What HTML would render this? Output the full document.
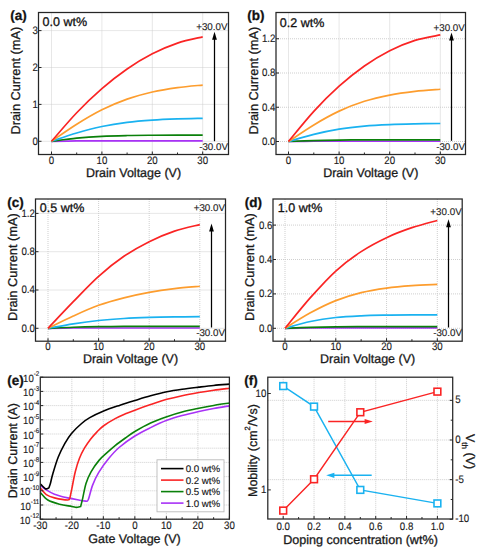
<!DOCTYPE html><html><head><meta charset="utf-8"><style>html,body{margin:0;padding:0;background:#fff;width:482px;height:550px;overflow:hidden}svg{display:block;font-family:"Liberation Sans",sans-serif}text{stroke:#1a1a1a;stroke-width:0.3px;paint-order:stroke;text-rendering:geometricPrecision}text.s{stroke-width:0.12px}</style></head><body><svg width="482" height="550" viewBox="0 0 482 550" >
<rect width="482" height="550" fill="#fff"/>
<line x1="51.50" y1="12.5" x2="51.50" y2="154.5" stroke="#cacaca" stroke-width="0.9" stroke-dasharray="1,1"/>
<line x1="101.90" y1="12.5" x2="101.90" y2="154.5" stroke="#cacaca" stroke-width="0.9" stroke-dasharray="1,1"/>
<line x1="152.30" y1="12.5" x2="152.30" y2="154.5" stroke="#cacaca" stroke-width="0.9" stroke-dasharray="1,1"/>
<line x1="202.70" y1="12.5" x2="202.70" y2="154.5" stroke="#cacaca" stroke-width="0.9" stroke-dasharray="1,1"/>
<line x1="38.5" y1="141.30" x2="228.5" y2="141.30" stroke="#cacaca" stroke-width="0.9" stroke-dasharray="1,1"/>
<line x1="38.5" y1="104.40" x2="228.5" y2="104.40" stroke="#cacaca" stroke-width="0.9" stroke-dasharray="1,1"/>
<line x1="38.5" y1="67.50" x2="228.5" y2="67.50" stroke="#cacaca" stroke-width="0.9" stroke-dasharray="1,1"/>
<line x1="38.5" y1="30.60" x2="228.5" y2="30.60" stroke="#cacaca" stroke-width="0.9" stroke-dasharray="1,1"/>
<path d="M51.50,141.30 C55.70,141.24 68.30,140.99 76.70,140.93 C85.10,140.87 93.50,140.93 101.90,140.93 C110.30,140.93 118.70,140.93 127.10,140.93 C135.50,140.93 143.90,140.93 152.30,140.93 C160.70,140.93 169.10,140.93 177.50,140.93 C185.90,140.93 198.50,140.93 202.70,140.93" fill="none" stroke="#A832F6" stroke-width="1.7"/>
<path d="M51.50,141.30 C55.70,140.78 68.30,139.00 76.70,138.16 C85.10,137.33 93.50,136.74 101.90,136.30 C110.30,135.86 118.70,135.69 127.10,135.51 C135.50,135.33 143.90,135.29 152.30,135.23 C160.70,135.17 169.10,135.15 177.50,135.13 C185.90,135.11 198.50,135.11 202.70,135.10" fill="none" stroke="#0A800A" stroke-width="1.7"/>
<path d="M51.50,141.30 C55.70,139.91 68.30,135.44 76.70,132.97 C85.10,130.51 93.50,128.27 101.90,126.51 C110.30,124.74 118.70,123.46 127.10,122.40 C135.50,121.33 143.90,120.69 152.30,120.11 C160.70,119.53 169.10,119.23 177.50,118.93 C185.90,118.64 198.50,118.45 202.70,118.35" fill="none" stroke="#1AB2F0" stroke-width="1.7"/>
<path d="M51.50,141.30 C55.70,138.46 68.30,129.50 76.70,124.24 C85.10,118.98 93.50,113.95 101.90,109.76 C110.30,105.56 118.70,102.04 127.10,99.08 C135.50,96.12 143.90,93.90 152.30,91.99 C160.70,90.08 169.10,88.77 177.50,87.61 C185.90,86.45 198.50,85.46 202.70,85.03" fill="none" stroke="#FD9D2E" stroke-width="1.7"/>
<path d="M51.50,141.30 C55.70,136.54 68.30,121.52 76.70,112.74 C85.10,103.96 93.50,95.93 101.90,88.64 C110.30,81.35 118.70,74.81 127.10,69.00 C135.50,63.20 143.90,58.15 152.30,53.83 C160.70,49.52 169.10,45.95 177.50,43.12 C185.90,40.29 198.50,37.91 202.70,36.87" fill="none" stroke="#FA2424" stroke-width="1.7"/>
<rect x="38.5" y="12.5" width="190.0" height="142.0" fill="none" stroke="#262626" stroke-width="1.25"/>
<line x1="51.50" y1="154.50" x2="51.50" y2="151.50" stroke="#262626" stroke-width="1" />
<line x1="76.70" y1="154.50" x2="76.70" y2="152.50" stroke="#262626" stroke-width="1" />
<line x1="101.90" y1="154.50" x2="101.90" y2="151.50" stroke="#262626" stroke-width="1" />
<line x1="127.10" y1="154.50" x2="127.10" y2="152.50" stroke="#262626" stroke-width="1" />
<line x1="152.30" y1="154.50" x2="152.30" y2="151.50" stroke="#262626" stroke-width="1" />
<line x1="177.50" y1="154.50" x2="177.50" y2="152.50" stroke="#262626" stroke-width="1" />
<line x1="202.70" y1="154.50" x2="202.70" y2="151.50" stroke="#262626" stroke-width="1" />
<line x1="38.50" y1="141.30" x2="41.50" y2="141.30" stroke="#262626" stroke-width="1" />
<text x="0" y="0" font-size="9.7" text-anchor="end" font-weight="normal" fill="#1a1a1a" transform="translate(37.90,144.70) scale(1,1.12)"  class="s">0</text>
<line x1="38.50" y1="104.40" x2="41.50" y2="104.40" stroke="#262626" stroke-width="1" />
<text x="0" y="0" font-size="9.7" text-anchor="end" font-weight="normal" fill="#1a1a1a" transform="translate(37.90,107.80) scale(1,1.12)"  class="s">1</text>
<line x1="38.50" y1="67.50" x2="41.50" y2="67.50" stroke="#262626" stroke-width="1" />
<text x="0" y="0" font-size="9.7" text-anchor="end" font-weight="normal" fill="#1a1a1a" transform="translate(37.90,70.90) scale(1,1.12)"  class="s">2</text>
<line x1="38.50" y1="30.60" x2="41.50" y2="30.60" stroke="#262626" stroke-width="1" />
<text x="0" y="0" font-size="9.7" text-anchor="end" font-weight="normal" fill="#1a1a1a" transform="translate(37.90,34.00) scale(1,1.12)"  class="s">3</text>
<text x="0" y="0" font-size="9.7" text-anchor="middle" font-weight="normal" fill="#1a1a1a" transform="translate(51.50,163.70) scale(1,1.12)"  class="s">0</text>
<text x="0" y="0" font-size="9.7" text-anchor="middle" font-weight="normal" fill="#1a1a1a" transform="translate(101.90,163.70) scale(1,1.12)"  class="s">10</text>
<text x="0" y="0" font-size="9.7" text-anchor="middle" font-weight="normal" fill="#1a1a1a" transform="translate(152.30,163.70) scale(1,1.12)"  class="s">20</text>
<text x="0" y="0" font-size="9.7" text-anchor="middle" font-weight="normal" fill="#1a1a1a" transform="translate(202.70,163.70) scale(1,1.12)"  class="s">30</text>
<text x="133.50" y="176.50" font-size="12.5" text-anchor="middle" font-weight="normal" fill="#1a1a1a" >Drain Voltage (V)</text>
<text x="0" y="0" font-size="12.75" text-anchor="middle" fill="#1a1a1a" transform="translate(20.099999999999998,80.6) rotate(-90)">Drain Current (mA)</text>
<text x="10.20" y="20.30" font-size="13.5" text-anchor="start" font-weight="bold" fill="#111" >(a)</text>
<text x="42.60" y="26.30" font-size="12.5" text-anchor="start" font-weight="normal" fill="#111" >0.0 wt%</text>
<line x1="214.5" y1="141.2" x2="214.5" y2="38.8" stroke="#000" stroke-width="1.25"/>
<path d="M214.5,31.8 L212.1,39.8 L216.9,39.8 Z" fill="#000"/>
<text x="227.50" y="30.20" font-size="9.8" text-anchor="end" font-weight="normal" fill="#1a1a1a"  class="s">+30.0V</text>
<text x="228.00" y="149.90" font-size="9.8" text-anchor="end" font-weight="normal" fill="#1a1a1a"  class="s">-30.0V</text>
<line x1="288.50" y1="12.5" x2="288.50" y2="154.5" stroke="#cacaca" stroke-width="0.9" stroke-dasharray="1,1"/>
<line x1="339.10" y1="12.5" x2="339.10" y2="154.5" stroke="#cacaca" stroke-width="0.9" stroke-dasharray="1,1"/>
<line x1="389.70" y1="12.5" x2="389.70" y2="154.5" stroke="#cacaca" stroke-width="0.9" stroke-dasharray="1,1"/>
<line x1="440.30" y1="12.5" x2="440.30" y2="154.5" stroke="#cacaca" stroke-width="0.9" stroke-dasharray="1,1"/>
<line x1="276" y1="141.50" x2="465.5" y2="141.50" stroke="#cacaca" stroke-width="0.9" stroke-dasharray="1,1"/>
<line x1="276" y1="107.25" x2="465.5" y2="107.25" stroke="#cacaca" stroke-width="0.9" stroke-dasharray="1,1"/>
<line x1="276" y1="73.00" x2="465.5" y2="73.00" stroke="#cacaca" stroke-width="0.9" stroke-dasharray="1,1"/>
<line x1="276" y1="38.75" x2="465.5" y2="38.75" stroke="#cacaca" stroke-width="0.9" stroke-dasharray="1,1"/>
<path d="M288.50,141.50 C292.72,141.46 305.37,141.29 313.80,141.24 C322.23,141.20 330.67,141.24 339.10,141.24 C347.53,141.24 355.97,141.24 364.40,141.24 C372.83,141.24 381.27,141.24 389.70,141.24 C398.13,141.24 406.57,141.24 415.00,141.24 C423.43,141.24 436.08,141.24 440.30,141.24" fill="none" stroke="#A832F6" stroke-width="1.7"/>
<path d="M288.50,141.50 C292.72,141.34 305.37,140.79 313.80,140.55 C322.23,140.31 330.67,140.16 339.10,140.05 C347.53,139.93 355.97,139.90 364.40,139.86 C372.83,139.82 381.27,139.82 389.70,139.81 C398.13,139.80 406.57,139.80 415.00,139.79 C423.43,139.79 436.08,139.79 440.30,139.79" fill="none" stroke="#0A800A" stroke-width="1.7"/>
<path d="M288.50,141.50 C292.72,140.30 305.37,136.39 313.80,134.32 C322.23,132.24 330.67,130.45 339.10,129.07 C347.53,127.69 355.97,126.80 364.40,126.04 C372.83,125.28 381.27,124.90 389.70,124.53 C398.13,124.16 406.57,124.00 415.00,123.83 C423.43,123.66 436.08,123.57 440.30,123.52" fill="none" stroke="#1AB2F0" stroke-width="1.7"/>
<path d="M288.50,141.50 C292.72,138.74 305.37,129.99 313.80,124.93 C322.23,119.87 330.67,115.07 339.10,111.14 C347.53,107.20 355.97,103.99 364.40,101.31 C372.83,98.63 381.27,96.72 389.70,95.06 C398.13,93.40 406.57,92.33 415.00,91.36 C423.43,90.40 436.08,89.62 440.30,89.27" fill="none" stroke="#FD9D2E" stroke-width="1.7"/>
<path d="M288.50,141.50 C292.72,136.48 305.37,120.61 313.80,111.39 C322.23,102.18 330.67,93.79 339.10,86.22 C347.53,78.66 355.97,71.91 364.40,65.99 C372.83,60.07 381.27,54.97 389.70,50.69 C398.13,46.41 406.57,42.96 415.00,40.33 C423.43,37.69 436.08,35.80 440.30,34.90" fill="none" stroke="#FA2424" stroke-width="1.7"/>
<rect x="276" y="12.5" width="189.5" height="142.0" fill="none" stroke="#262626" stroke-width="1.25"/>
<line x1="288.50" y1="154.50" x2="288.50" y2="151.50" stroke="#262626" stroke-width="1" />
<line x1="313.80" y1="154.50" x2="313.80" y2="152.50" stroke="#262626" stroke-width="1" />
<line x1="339.10" y1="154.50" x2="339.10" y2="151.50" stroke="#262626" stroke-width="1" />
<line x1="364.40" y1="154.50" x2="364.40" y2="152.50" stroke="#262626" stroke-width="1" />
<line x1="389.70" y1="154.50" x2="389.70" y2="151.50" stroke="#262626" stroke-width="1" />
<line x1="415.00" y1="154.50" x2="415.00" y2="152.50" stroke="#262626" stroke-width="1" />
<line x1="440.30" y1="154.50" x2="440.30" y2="151.50" stroke="#262626" stroke-width="1" />
<line x1="276.00" y1="141.50" x2="279.00" y2="141.50" stroke="#262626" stroke-width="1" />
<text x="0" y="0" font-size="9.7" text-anchor="end" font-weight="normal" fill="#1a1a1a" transform="translate(275.40,144.90) scale(1,1.12)"  class="s">0.0</text>
<line x1="276.00" y1="107.25" x2="279.00" y2="107.25" stroke="#262626" stroke-width="1" />
<text x="0" y="0" font-size="9.7" text-anchor="end" font-weight="normal" fill="#1a1a1a" transform="translate(275.40,110.65) scale(1,1.12)"  class="s">0.4</text>
<line x1="276.00" y1="73.00" x2="279.00" y2="73.00" stroke="#262626" stroke-width="1" />
<text x="0" y="0" font-size="9.7" text-anchor="end" font-weight="normal" fill="#1a1a1a" transform="translate(275.40,76.40) scale(1,1.12)"  class="s">0.8</text>
<line x1="276.00" y1="38.75" x2="279.00" y2="38.75" stroke="#262626" stroke-width="1" />
<text x="0" y="0" font-size="9.7" text-anchor="end" font-weight="normal" fill="#1a1a1a" transform="translate(275.40,42.15) scale(1,1.12)"  class="s">1.2</text>
<text x="0" y="0" font-size="9.7" text-anchor="middle" font-weight="normal" fill="#1a1a1a" transform="translate(288.50,163.70) scale(1,1.12)"  class="s">0</text>
<text x="0" y="0" font-size="9.7" text-anchor="middle" font-weight="normal" fill="#1a1a1a" transform="translate(339.10,163.70) scale(1,1.12)"  class="s">10</text>
<text x="0" y="0" font-size="9.7" text-anchor="middle" font-weight="normal" fill="#1a1a1a" transform="translate(389.70,163.70) scale(1,1.12)"  class="s">20</text>
<text x="0" y="0" font-size="9.7" text-anchor="middle" font-weight="normal" fill="#1a1a1a" transform="translate(440.30,163.70) scale(1,1.12)"  class="s">30</text>
<text x="370.75" y="176.50" font-size="12.5" text-anchor="middle" font-weight="normal" fill="#1a1a1a" >Drain Voltage (V)</text>
<text x="0" y="0" font-size="12.75" text-anchor="middle" fill="#1a1a1a" transform="translate(257.59999999999997,80.6) rotate(-90)">Drain Current (mA)</text>
<text x="247.30" y="20.30" font-size="13.5" text-anchor="start" font-weight="bold" fill="#111" >(b)</text>
<text x="279.80" y="27.00" font-size="12.5" text-anchor="start" font-weight="normal" fill="#111" >0.2 wt%</text>
<line x1="451.5" y1="140.8" x2="451.5" y2="39.5" stroke="#000" stroke-width="1.25"/>
<path d="M451.5,32.5 L449.1,40.5 L453.9,40.5 Z" fill="#000"/>
<text x="464.80" y="30.90" font-size="9.8" text-anchor="end" font-weight="normal" fill="#1a1a1a"  class="s">+30.0V</text>
<text x="465.00" y="149.90" font-size="9.8" text-anchor="end" font-weight="normal" fill="#1a1a1a"  class="s">-30.0V</text>
<line x1="48.00" y1="199" x2="48.00" y2="341.2" stroke="#cacaca" stroke-width="0.9" stroke-dasharray="1,1"/>
<line x1="98.60" y1="199" x2="98.60" y2="341.2" stroke="#cacaca" stroke-width="0.9" stroke-dasharray="1,1"/>
<line x1="149.20" y1="199" x2="149.20" y2="341.2" stroke="#cacaca" stroke-width="0.9" stroke-dasharray="1,1"/>
<line x1="199.80" y1="199" x2="199.80" y2="341.2" stroke="#cacaca" stroke-width="0.9" stroke-dasharray="1,1"/>
<line x1="35.5" y1="328.30" x2="225.5" y2="328.30" stroke="#cacaca" stroke-width="0.9" stroke-dasharray="1,1"/>
<line x1="35.5" y1="290.00" x2="225.5" y2="290.00" stroke="#cacaca" stroke-width="0.9" stroke-dasharray="1,1"/>
<line x1="35.5" y1="251.70" x2="225.5" y2="251.70" stroke="#cacaca" stroke-width="0.9" stroke-dasharray="1,1"/>
<line x1="35.5" y1="213.40" x2="225.5" y2="213.40" stroke="#cacaca" stroke-width="0.9" stroke-dasharray="1,1"/>
<path d="M48.00,328.30 C52.22,328.25 64.87,328.06 73.30,328.01 C81.73,327.96 90.17,328.01 98.60,328.01 C107.03,328.01 115.47,328.01 123.90,328.01 C132.33,328.01 140.77,328.01 149.20,328.01 C157.63,328.01 166.07,328.01 174.50,328.01 C182.93,328.01 195.58,328.01 199.80,328.01" fill="none" stroke="#A832F6" stroke-width="1.7"/>
<path d="M48.00,328.30 C52.22,328.12 64.87,327.51 73.30,327.24 C81.73,326.97 90.17,326.80 98.60,326.67 C107.03,326.55 115.47,326.52 123.90,326.47 C132.33,326.43 140.77,326.42 149.20,326.41 C157.63,326.40 166.07,326.39 174.50,326.39 C182.93,326.39 195.58,326.39 199.80,326.38" fill="none" stroke="#0A800A" stroke-width="1.7"/>
<path d="M48.00,328.30 C52.22,327.55 64.87,325.13 73.30,323.82 C81.73,322.52 90.17,321.37 98.60,320.48 C107.03,319.59 115.47,318.99 123.90,318.48 C132.33,317.98 140.77,317.70 149.20,317.44 C157.63,317.19 166.07,317.07 174.50,316.95 C182.93,316.82 195.58,316.75 199.80,316.71" fill="none" stroke="#1AB2F0" stroke-width="1.7"/>
<path d="M48.00,328.30 C52.22,326.26 64.87,319.87 73.30,316.04 C81.73,312.21 90.17,308.35 98.60,305.32 C107.03,302.29 115.47,300.01 123.90,297.85 C132.33,295.70 140.77,293.93 149.20,292.39 C157.63,290.86 166.07,289.68 174.50,288.66 C182.93,287.64 195.58,286.66 199.80,286.27" fill="none" stroke="#FD9D2E" stroke-width="1.7"/>
<path d="M48.00,328.30 C52.22,323.86 64.87,310.35 73.30,301.68 C81.73,293.02 90.17,283.87 98.60,276.31 C107.03,268.74 115.47,262.07 123.90,256.30 C132.33,250.52 140.77,245.84 149.20,241.65 C157.63,237.45 166.07,233.95 174.50,231.11 C182.93,228.27 195.58,225.69 199.80,224.60" fill="none" stroke="#FA2424" stroke-width="1.7"/>
<rect x="35.5" y="199" width="190.0" height="142.2" fill="none" stroke="#262626" stroke-width="1.25"/>
<line x1="48.00" y1="341.20" x2="48.00" y2="338.20" stroke="#262626" stroke-width="1" />
<line x1="73.30" y1="341.20" x2="73.30" y2="339.20" stroke="#262626" stroke-width="1" />
<line x1="98.60" y1="341.20" x2="98.60" y2="338.20" stroke="#262626" stroke-width="1" />
<line x1="123.90" y1="341.20" x2="123.90" y2="339.20" stroke="#262626" stroke-width="1" />
<line x1="149.20" y1="341.20" x2="149.20" y2="338.20" stroke="#262626" stroke-width="1" />
<line x1="174.50" y1="341.20" x2="174.50" y2="339.20" stroke="#262626" stroke-width="1" />
<line x1="199.80" y1="341.20" x2="199.80" y2="338.20" stroke="#262626" stroke-width="1" />
<line x1="35.50" y1="328.30" x2="38.50" y2="328.30" stroke="#262626" stroke-width="1" />
<text x="0" y="0" font-size="9.7" text-anchor="end" font-weight="normal" fill="#1a1a1a" transform="translate(34.90,331.70) scale(1,1.12)"  class="s">0.0</text>
<line x1="35.50" y1="290.00" x2="38.50" y2="290.00" stroke="#262626" stroke-width="1" />
<text x="0" y="0" font-size="9.7" text-anchor="end" font-weight="normal" fill="#1a1a1a" transform="translate(34.90,293.40) scale(1,1.12)"  class="s">0.4</text>
<line x1="35.50" y1="251.70" x2="38.50" y2="251.70" stroke="#262626" stroke-width="1" />
<text x="0" y="0" font-size="9.7" text-anchor="end" font-weight="normal" fill="#1a1a1a" transform="translate(34.90,255.10) scale(1,1.12)"  class="s">0.8</text>
<line x1="35.50" y1="213.40" x2="38.50" y2="213.40" stroke="#262626" stroke-width="1" />
<text x="0" y="0" font-size="9.7" text-anchor="end" font-weight="normal" fill="#1a1a1a" transform="translate(34.90,216.80) scale(1,1.12)"  class="s">1.2</text>
<text x="0" y="0" font-size="9.7" text-anchor="middle" font-weight="normal" fill="#1a1a1a" transform="translate(48.00,350.40) scale(1,1.12)"  class="s">0</text>
<text x="0" y="0" font-size="9.7" text-anchor="middle" font-weight="normal" fill="#1a1a1a" transform="translate(98.60,350.40) scale(1,1.12)"  class="s">10</text>
<text x="0" y="0" font-size="9.7" text-anchor="middle" font-weight="normal" fill="#1a1a1a" transform="translate(149.20,350.40) scale(1,1.12)"  class="s">20</text>
<text x="0" y="0" font-size="9.7" text-anchor="middle" font-weight="normal" fill="#1a1a1a" transform="translate(199.80,350.40) scale(1,1.12)"  class="s">30</text>
<text x="130.50" y="363.20" font-size="12.5" text-anchor="middle" font-weight="normal" fill="#1a1a1a" >Drain Voltage (V)</text>
<text x="0" y="0" font-size="12.75" text-anchor="middle" fill="#1a1a1a" transform="translate(16.9,267.20000000000005) rotate(-90)">Drain Current (mA)</text>
<text x="7.20" y="206.80" font-size="13.5" text-anchor="start" font-weight="bold" fill="#111" >(c)</text>
<text x="39.80" y="212.30" font-size="12.5" text-anchor="start" font-weight="normal" fill="#111" >0.5 wt%</text>
<line x1="211.5" y1="327.5" x2="211.5" y2="230.5" stroke="#000" stroke-width="1.25"/>
<path d="M211.5,223.5 L209.1,231.5 L213.9,231.5 Z" fill="#000"/>
<text x="225.00" y="211.10" font-size="9.8" text-anchor="end" font-weight="normal" fill="#1a1a1a"  class="s">+30.0V</text>
<text x="225.00" y="336.30" font-size="9.8" text-anchor="end" font-weight="normal" fill="#1a1a1a"  class="s">-30.0V</text>
<line x1="285.00" y1="199" x2="285.00" y2="341.2" stroke="#cacaca" stroke-width="0.9" stroke-dasharray="1,1"/>
<line x1="335.77" y1="199" x2="335.77" y2="341.2" stroke="#cacaca" stroke-width="0.9" stroke-dasharray="1,1"/>
<line x1="386.54" y1="199" x2="386.54" y2="341.2" stroke="#cacaca" stroke-width="0.9" stroke-dasharray="1,1"/>
<line x1="437.31" y1="199" x2="437.31" y2="341.2" stroke="#cacaca" stroke-width="0.9" stroke-dasharray="1,1"/>
<line x1="273" y1="328.30" x2="462.2" y2="328.30" stroke="#cacaca" stroke-width="0.9" stroke-dasharray="1,1"/>
<line x1="273" y1="293.90" x2="462.2" y2="293.90" stroke="#cacaca" stroke-width="0.9" stroke-dasharray="1,1"/>
<line x1="273" y1="259.50" x2="462.2" y2="259.50" stroke="#cacaca" stroke-width="0.9" stroke-dasharray="1,1"/>
<line x1="273" y1="225.10" x2="462.2" y2="225.10" stroke="#cacaca" stroke-width="0.9" stroke-dasharray="1,1"/>
<path d="M285.00,328.30 C289.23,328.24 301.92,328.01 310.38,327.96 C318.85,327.90 327.31,327.96 335.77,327.96 C344.23,327.96 352.69,327.96 361.15,327.96 C369.62,327.96 378.08,327.96 386.54,327.96 C395.00,327.96 403.46,327.96 411.93,327.96 C420.39,327.96 433.08,327.96 437.31,327.96" fill="none" stroke="#A832F6" stroke-width="1.7"/>
<path d="M285.00,328.30 C289.23,328.14 301.92,327.59 310.38,327.35 C318.85,327.10 327.31,326.95 335.77,326.84 C344.23,326.72 352.69,326.70 361.15,326.66 C369.62,326.62 378.08,326.61 386.54,326.60 C395.00,326.59 403.46,326.59 411.93,326.58 C420.39,326.58 433.08,326.58 437.31,326.58" fill="none" stroke="#0A800A" stroke-width="1.7"/>
<path d="M285.00,328.30 C289.23,327.17 301.92,323.32 310.38,321.51 C318.85,319.71 327.31,318.44 335.77,317.48 C344.23,316.52 352.69,316.16 361.15,315.78 C369.62,315.39 378.08,315.30 386.54,315.16 C395.00,315.02 403.46,315.00 411.93,314.95 C420.39,314.91 433.08,314.90 437.31,314.88" fill="none" stroke="#1AB2F0" stroke-width="1.7"/>
<path d="M285.00,328.30 C289.23,325.72 301.92,317.46 310.38,312.85 C318.85,308.24 327.31,304.01 335.77,300.65 C344.23,297.29 352.69,294.77 361.15,292.68 C369.62,290.59 378.08,289.28 386.54,288.11 C395.00,286.95 403.46,286.29 411.93,285.68 C420.39,285.07 433.08,284.65 437.31,284.44" fill="none" stroke="#FD9D2E" stroke-width="1.7"/>
<path d="M285.00,328.30 C289.23,323.20 301.92,307.23 310.38,297.68 C318.85,288.14 327.31,278.71 335.77,271.02 C344.23,263.34 352.69,257.15 361.15,251.59 C369.62,246.03 378.08,241.64 386.54,237.66 C395.00,233.67 403.46,230.55 411.93,227.68 C420.39,224.81 433.08,221.66 437.31,220.46" fill="none" stroke="#FA2424" stroke-width="1.7"/>
<rect x="273" y="199" width="189.2" height="142.2" fill="none" stroke="#262626" stroke-width="1.25"/>
<line x1="285.00" y1="341.20" x2="285.00" y2="338.20" stroke="#262626" stroke-width="1" />
<line x1="310.38" y1="341.20" x2="310.38" y2="339.20" stroke="#262626" stroke-width="1" />
<line x1="335.77" y1="341.20" x2="335.77" y2="338.20" stroke="#262626" stroke-width="1" />
<line x1="361.15" y1="341.20" x2="361.15" y2="339.20" stroke="#262626" stroke-width="1" />
<line x1="386.54" y1="341.20" x2="386.54" y2="338.20" stroke="#262626" stroke-width="1" />
<line x1="411.93" y1="341.20" x2="411.93" y2="339.20" stroke="#262626" stroke-width="1" />
<line x1="437.31" y1="341.20" x2="437.31" y2="338.20" stroke="#262626" stroke-width="1" />
<line x1="273.00" y1="328.30" x2="276.00" y2="328.30" stroke="#262626" stroke-width="1" />
<text x="0" y="0" font-size="9.7" text-anchor="end" font-weight="normal" fill="#1a1a1a" transform="translate(272.40,331.70) scale(1,1.12)"  class="s">0.0</text>
<line x1="273.00" y1="293.90" x2="276.00" y2="293.90" stroke="#262626" stroke-width="1" />
<text x="0" y="0" font-size="9.7" text-anchor="end" font-weight="normal" fill="#1a1a1a" transform="translate(272.40,297.30) scale(1,1.12)"  class="s">0.2</text>
<line x1="273.00" y1="259.50" x2="276.00" y2="259.50" stroke="#262626" stroke-width="1" />
<text x="0" y="0" font-size="9.7" text-anchor="end" font-weight="normal" fill="#1a1a1a" transform="translate(272.40,262.90) scale(1,1.12)"  class="s">0.4</text>
<line x1="273.00" y1="225.10" x2="276.00" y2="225.10" stroke="#262626" stroke-width="1" />
<text x="0" y="0" font-size="9.7" text-anchor="end" font-weight="normal" fill="#1a1a1a" transform="translate(272.40,228.50) scale(1,1.12)"  class="s">0.6</text>
<text x="0" y="0" font-size="9.7" text-anchor="middle" font-weight="normal" fill="#1a1a1a" transform="translate(285.00,350.40) scale(1,1.12)"  class="s">0</text>
<text x="0" y="0" font-size="9.7" text-anchor="middle" font-weight="normal" fill="#1a1a1a" transform="translate(335.77,350.40) scale(1,1.12)"  class="s">10</text>
<text x="0" y="0" font-size="9.7" text-anchor="middle" font-weight="normal" fill="#1a1a1a" transform="translate(386.54,350.40) scale(1,1.12)"  class="s">20</text>
<text x="0" y="0" font-size="9.7" text-anchor="middle" font-weight="normal" fill="#1a1a1a" transform="translate(437.31,350.40) scale(1,1.12)"  class="s">30</text>
<text x="367.60" y="363.20" font-size="12.5" text-anchor="middle" font-weight="normal" fill="#1a1a1a" >Drain Voltage (V)</text>
<text x="0" y="0" font-size="12.75" text-anchor="middle" fill="#1a1a1a" transform="translate(253.9,267.20000000000005) rotate(-90)">Drain Current (mA)</text>
<text x="244.80" y="206.80" font-size="13.5" text-anchor="start" font-weight="bold" fill="#111" >(d)</text>
<text x="277.80" y="212.30" font-size="12.5" text-anchor="start" font-weight="normal" fill="#111" >1.0 wt%</text>
<line x1="448.5" y1="327.5" x2="448.5" y2="226.3" stroke="#000" stroke-width="1.25"/>
<path d="M448.5,219.3 L446.1,227.3 L450.9,227.3 Z" fill="#000"/>
<text x="461.70" y="215.20" font-size="9.8" text-anchor="end" font-weight="normal" fill="#1a1a1a"  class="s">+30.0V</text>
<text x="462.00" y="336.30" font-size="9.8" text-anchor="end" font-weight="normal" fill="#1a1a1a"  class="s">-30.0V</text>
<line x1="40.30" y1="377.2" x2="40.30" y2="519.2" stroke="#cacaca" stroke-width="0.9" stroke-dasharray="1,1"/>
<line x1="71.82" y1="377.2" x2="71.82" y2="519.2" stroke="#cacaca" stroke-width="0.9" stroke-dasharray="1,1"/>
<line x1="103.33" y1="377.2" x2="103.33" y2="519.2" stroke="#cacaca" stroke-width="0.9" stroke-dasharray="1,1"/>
<line x1="134.85" y1="377.2" x2="134.85" y2="519.2" stroke="#cacaca" stroke-width="0.9" stroke-dasharray="1,1"/>
<line x1="166.37" y1="377.2" x2="166.37" y2="519.2" stroke="#cacaca" stroke-width="0.9" stroke-dasharray="1,1"/>
<line x1="197.88" y1="377.2" x2="197.88" y2="519.2" stroke="#cacaca" stroke-width="0.9" stroke-dasharray="1,1"/>
<line x1="229.40" y1="377.2" x2="229.40" y2="519.2" stroke="#cacaca" stroke-width="0.9" stroke-dasharray="1,1"/>
<line x1="40.3" y1="377.20" x2="229.4" y2="377.20" stroke="#cacaca" stroke-width="0.9" stroke-dasharray="1,1"/>
<line x1="40.3" y1="391.40" x2="229.4" y2="391.40" stroke="#cacaca" stroke-width="0.9" stroke-dasharray="1,1"/>
<line x1="40.3" y1="405.60" x2="229.4" y2="405.60" stroke="#cacaca" stroke-width="0.9" stroke-dasharray="1,1"/>
<line x1="40.3" y1="419.80" x2="229.4" y2="419.80" stroke="#cacaca" stroke-width="0.9" stroke-dasharray="1,1"/>
<line x1="40.3" y1="434.00" x2="229.4" y2="434.00" stroke="#cacaca" stroke-width="0.9" stroke-dasharray="1,1"/>
<line x1="40.3" y1="448.20" x2="229.4" y2="448.20" stroke="#cacaca" stroke-width="0.9" stroke-dasharray="1,1"/>
<line x1="40.3" y1="462.40" x2="229.4" y2="462.40" stroke="#cacaca" stroke-width="0.9" stroke-dasharray="1,1"/>
<line x1="40.3" y1="476.60" x2="229.4" y2="476.60" stroke="#cacaca" stroke-width="0.9" stroke-dasharray="1,1"/>
<line x1="40.3" y1="490.80" x2="229.4" y2="490.80" stroke="#cacaca" stroke-width="0.9" stroke-dasharray="1,1"/>
<line x1="40.3" y1="505.00" x2="229.4" y2="505.00" stroke="#cacaca" stroke-width="0.9" stroke-dasharray="1,1"/>
<line x1="40.3" y1="519.20" x2="229.4" y2="519.20" stroke="#cacaca" stroke-width="0.9" stroke-dasharray="1,1"/>
<path d="M40.30,485.12 C41.30,485.92 43.92,488.43 46.29,489.95 C48.65,491.46 50.91,492.88 54.48,494.21 C58.05,495.53 63.52,496.91 67.72,497.90 C71.92,498.89 76.49,499.60 79.70,500.17 C82.90,500.74 85.74,501.12 86.94,501.31 L86.94,501.31 C87.21,500.93 87.58,501.73 88.52,499.04 C89.47,496.34 90.94,489.52 92.62,485.12 C94.30,480.72 95.93,477.05 98.61,472.62 C101.28,468.20 105.28,462.76 108.69,458.57 C112.11,454.38 114.73,451.25 119.09,447.49 C123.45,443.73 129.60,439.30 134.85,435.99 C140.10,432.67 145.28,430.21 150.61,427.61 C155.94,425.01 161.59,422.38 166.84,420.37 C172.09,418.36 176.79,417.03 182.12,415.54 C187.46,414.05 193.58,412.61 198.83,411.42 C204.08,410.24 208.55,409.36 213.64,408.44 C218.74,407.52 226.77,406.31 229.40,405.88 " fill="none" stroke="#A832F6" stroke-width="1.6" stroke-linejoin="round"/>
<path d="M40.30,492.50 C41.56,493.76 44.66,498.09 47.86,500.03 C51.07,501.97 55.53,503.08 59.53,504.15 C63.52,505.21 69.03,505.88 71.82,506.42 C74.60,506.96 74.76,507.39 76.23,507.41 C77.70,507.44 79.91,506.70 80.64,506.56 L80.64,506.56 C80.98,505.19 81.80,502.18 82.69,498.33 C83.58,494.47 84.61,487.84 86.00,483.42 C87.39,478.99 88.84,475.65 91.04,471.77 C93.25,467.89 96.66,463.23 99.24,460.13 C101.81,457.03 103.83,455.58 106.48,453.17 C109.14,450.76 112.00,448.18 115.15,445.64 C118.30,443.11 122.11,440.34 125.40,437.98 C128.68,435.61 130.65,433.95 134.85,431.44 C139.05,428.94 145.28,425.39 150.61,422.92 C155.94,420.46 161.59,418.50 166.84,416.68 C172.09,414.85 176.79,413.39 182.12,411.99 C187.46,410.59 193.58,409.39 198.83,408.30 C204.08,407.21 208.55,406.33 213.64,405.46 C218.74,404.58 226.77,403.45 229.40,403.04 " fill="none" stroke="#0A800A" stroke-width="1.6" stroke-linejoin="round"/>
<path d="M40.30,487.96 C41.30,489.07 43.92,492.98 46.29,494.63 C48.65,496.29 50.91,497.00 54.48,497.90 C58.05,498.80 65.15,500.03 67.72,500.03 C70.29,500.03 69.56,498.26 69.93,497.90 L69.93,497.90 C70.26,496.31 71.02,492.74 71.91,488.39 C72.80,484.03 74.04,476.74 75.28,471.77 C76.53,466.80 77.86,462.49 79.38,458.57 C80.90,454.64 82.53,451.47 84.42,448.20 C86.31,444.93 88.63,441.69 90.73,438.97 C92.83,436.25 94.88,434.07 97.03,431.87 C99.18,429.67 100.63,427.97 103.65,425.76 C106.67,423.56 111.53,420.65 115.15,418.66 C118.78,416.68 122.11,415.26 125.40,413.84 C128.68,412.42 130.65,411.68 134.85,410.14 C139.05,408.61 145.28,406.40 150.61,404.61 C155.94,402.81 161.59,400.84 166.84,399.35 C172.09,397.86 176.79,396.80 182.12,395.66 C187.46,394.52 193.58,393.44 198.83,392.54 C204.08,391.64 208.55,390.97 213.64,390.26 C218.74,389.55 226.77,388.61 229.40,388.28 " fill="none" stroke="#FA2424" stroke-width="1.6" stroke-linejoin="round"/>
<path d="M40.30,483.70 C41.14,484.53 43.92,487.96 45.34,488.67 C46.76,489.38 48.23,488.08 48.81,487.96 L48.81,487.96 C49.07,487.20 49.70,485.83 50.39,483.42 C51.07,481.00 51.59,477.88 52.91,473.48 C54.22,469.07 56.27,462.02 58.26,457.00 C60.26,451.99 62.68,447.30 64.88,443.37 C67.09,439.44 68.72,436.75 71.50,433.43 C74.29,430.12 78.54,426.12 81.59,423.49 C84.63,420.87 86.10,419.75 89.78,417.67 C93.46,415.59 98.61,413.08 103.65,411.00 C108.69,408.91 114.84,406.93 120.04,405.17 C125.24,403.42 129.75,402.05 134.85,400.49 C139.95,398.93 145.28,397.25 150.61,395.80 C155.94,394.36 161.59,392.91 166.84,391.83 C172.09,390.74 176.79,390.05 182.12,389.27 C187.46,388.49 193.58,387.78 198.83,387.14 C204.08,386.50 208.55,385.93 213.64,385.44 C218.74,384.94 226.77,384.37 229.40,384.16 " fill="none" stroke="#000000" stroke-width="1.6" stroke-linejoin="round"/>
<rect x="157" y="459.8" width="67" height="52" fill="#fff" stroke="#bbb" stroke-width="0.9"/>
<line x1="161.00" y1="468.60" x2="183.50" y2="468.60" stroke="#000000" stroke-width="1.6" />
<text x="185.70" y="472.10" font-size="9.7" text-anchor="start" font-weight="normal" fill="#111"  class="s">0.0 wt%</text>
<line x1="161.00" y1="480.10" x2="183.50" y2="480.10" stroke="#FA2424" stroke-width="1.6" />
<text x="185.70" y="483.60" font-size="9.7" text-anchor="start" font-weight="normal" fill="#111"  class="s">0.2 wt%</text>
<line x1="161.00" y1="491.60" x2="183.50" y2="491.60" stroke="#0A800A" stroke-width="1.6" />
<text x="185.70" y="495.10" font-size="9.7" text-anchor="start" font-weight="normal" fill="#111"  class="s">0.5 wt%</text>
<line x1="161.00" y1="503.10" x2="183.50" y2="503.10" stroke="#A832F6" stroke-width="1.6" />
<text x="185.70" y="506.60" font-size="9.7" text-anchor="start" font-weight="normal" fill="#111"  class="s">1.0 wt%</text>
<rect x="40.3" y="377.2" width="189.10000000000002" height="142.00000000000006" fill="none" stroke="#262626" stroke-width="1.25"/>
<line x1="40.30" y1="519.20" x2="40.30" y2="516.20" stroke="#262626" stroke-width="1" />
<text x="0" y="0" font-size="9.7" text-anchor="middle" font-weight="normal" fill="#1a1a1a" transform="translate(40.30,528.70) scale(1,1.12)"  class="s">-30</text>
<line x1="56.06" y1="519.20" x2="56.06" y2="517.20" stroke="#262626" stroke-width="1" />
<line x1="71.82" y1="519.20" x2="71.82" y2="516.20" stroke="#262626" stroke-width="1" />
<text x="0" y="0" font-size="9.7" text-anchor="middle" font-weight="normal" fill="#1a1a1a" transform="translate(71.82,528.70) scale(1,1.12)"  class="s">-20</text>
<line x1="87.58" y1="519.20" x2="87.58" y2="517.20" stroke="#262626" stroke-width="1" />
<line x1="103.33" y1="519.20" x2="103.33" y2="516.20" stroke="#262626" stroke-width="1" />
<text x="0" y="0" font-size="9.7" text-anchor="middle" font-weight="normal" fill="#1a1a1a" transform="translate(103.33,528.70) scale(1,1.12)"  class="s">-10</text>
<line x1="119.09" y1="519.20" x2="119.09" y2="517.20" stroke="#262626" stroke-width="1" />
<line x1="134.85" y1="519.20" x2="134.85" y2="516.20" stroke="#262626" stroke-width="1" />
<text x="0" y="0" font-size="9.7" text-anchor="middle" font-weight="normal" fill="#1a1a1a" transform="translate(134.85,528.70) scale(1,1.12)"  class="s">0</text>
<line x1="150.61" y1="519.20" x2="150.61" y2="517.20" stroke="#262626" stroke-width="1" />
<line x1="166.37" y1="519.20" x2="166.37" y2="516.20" stroke="#262626" stroke-width="1" />
<text x="0" y="0" font-size="9.7" text-anchor="middle" font-weight="normal" fill="#1a1a1a" transform="translate(166.37,528.70) scale(1,1.12)"  class="s">10</text>
<line x1="182.12" y1="519.20" x2="182.12" y2="517.20" stroke="#262626" stroke-width="1" />
<line x1="197.88" y1="519.20" x2="197.88" y2="516.20" stroke="#262626" stroke-width="1" />
<text x="0" y="0" font-size="9.7" text-anchor="middle" font-weight="normal" fill="#1a1a1a" transform="translate(197.88,528.70) scale(1,1.12)"  class="s">20</text>
<line x1="213.64" y1="519.20" x2="213.64" y2="517.20" stroke="#262626" stroke-width="1" />
<line x1="229.40" y1="519.20" x2="229.40" y2="516.20" stroke="#262626" stroke-width="1" />
<text x="0" y="0" font-size="9.7" text-anchor="middle" font-weight="normal" fill="#1a1a1a" transform="translate(229.40,528.70) scale(1,1.12)"  class="s">30</text>
<line x1="40.30" y1="377.20" x2="43.30" y2="377.20" stroke="#262626" stroke-width="1" />
<text x="0" y="0" font-size="9.6" text-anchor="end" fill="#1a1a1a" class="s" transform="translate(39.3,381.70) scale(1,1.1)">10<tspan font-size="6.2" dy="-4.9">-2</tspan></text>
<line x1="40.30" y1="391.40" x2="43.30" y2="391.40" stroke="#262626" stroke-width="1" />
<text x="0" y="0" font-size="9.6" text-anchor="end" fill="#1a1a1a" class="s" transform="translate(39.3,395.90) scale(1,1.1)">10<tspan font-size="6.2" dy="-4.9">-3</tspan></text>
<line x1="40.30" y1="405.60" x2="43.30" y2="405.60" stroke="#262626" stroke-width="1" />
<text x="0" y="0" font-size="9.6" text-anchor="end" fill="#1a1a1a" class="s" transform="translate(39.3,410.10) scale(1,1.1)">10<tspan font-size="6.2" dy="-4.9">-4</tspan></text>
<line x1="40.30" y1="419.80" x2="43.30" y2="419.80" stroke="#262626" stroke-width="1" />
<text x="0" y="0" font-size="9.6" text-anchor="end" fill="#1a1a1a" class="s" transform="translate(39.3,424.30) scale(1,1.1)">10<tspan font-size="6.2" dy="-4.9">-5</tspan></text>
<line x1="40.30" y1="434.00" x2="43.30" y2="434.00" stroke="#262626" stroke-width="1" />
<text x="0" y="0" font-size="9.6" text-anchor="end" fill="#1a1a1a" class="s" transform="translate(39.3,438.50) scale(1,1.1)">10<tspan font-size="6.2" dy="-4.9">-6</tspan></text>
<line x1="40.30" y1="448.20" x2="43.30" y2="448.20" stroke="#262626" stroke-width="1" />
<text x="0" y="0" font-size="9.6" text-anchor="end" fill="#1a1a1a" class="s" transform="translate(39.3,452.70) scale(1,1.1)">10<tspan font-size="6.2" dy="-4.9">-7</tspan></text>
<line x1="40.30" y1="462.40" x2="43.30" y2="462.40" stroke="#262626" stroke-width="1" />
<text x="0" y="0" font-size="9.6" text-anchor="end" fill="#1a1a1a" class="s" transform="translate(39.3,466.90) scale(1,1.1)">10<tspan font-size="6.2" dy="-4.9">-8</tspan></text>
<line x1="40.30" y1="476.60" x2="43.30" y2="476.60" stroke="#262626" stroke-width="1" />
<text x="0" y="0" font-size="9.6" text-anchor="end" fill="#1a1a1a" class="s" transform="translate(39.3,481.10) scale(1,1.1)">10<tspan font-size="6.2" dy="-4.9">-9</tspan></text>
<line x1="40.30" y1="490.80" x2="43.30" y2="490.80" stroke="#262626" stroke-width="1" />
<text x="0" y="0" font-size="9.6" text-anchor="end" fill="#1a1a1a" class="s" transform="translate(39.3,495.30) scale(1,1.1)">10<tspan font-size="6.2" dy="-4.9">-10</tspan></text>
<line x1="40.30" y1="505.00" x2="43.30" y2="505.00" stroke="#262626" stroke-width="1" />
<text x="0" y="0" font-size="9.6" text-anchor="end" fill="#1a1a1a" class="s" transform="translate(39.3,509.50) scale(1,1.1)">10<tspan font-size="6.2" dy="-4.9">-11</tspan></text>
<line x1="40.30" y1="519.20" x2="43.30" y2="519.20" stroke="#262626" stroke-width="1" />
<text x="0" y="0" font-size="9.6" text-anchor="end" fill="#1a1a1a" class="s" transform="translate(39.3,523.70) scale(1,1.1)">10<tspan font-size="6.2" dy="-4.9">-12</tspan></text>
<text x="134.50" y="543.00" font-size="12.5" text-anchor="middle" font-weight="normal" fill="#1a1a1a" >Gate Voltage (V)</text>
<text x="0" y="0" font-size="12.5" text-anchor="middle" fill="#1a1a1a" transform="translate(17.2,450.6) rotate(-90)">Drain Current (A)</text>
<text x="7.20" y="384.70" font-size="13.5" text-anchor="start" font-weight="bold" fill="#111" >(e)</text>
<line x1="283.20" y1="377.2" x2="283.20" y2="519.0" stroke="#cacaca" stroke-width="0.9" stroke-dasharray="1,1"/>
<line x1="314.04" y1="377.2" x2="314.04" y2="519.0" stroke="#cacaca" stroke-width="0.9" stroke-dasharray="1,1"/>
<line x1="344.88" y1="377.2" x2="344.88" y2="519.0" stroke="#cacaca" stroke-width="0.9" stroke-dasharray="1,1"/>
<line x1="375.72" y1="377.2" x2="375.72" y2="519.0" stroke="#cacaca" stroke-width="0.9" stroke-dasharray="1,1"/>
<line x1="406.56" y1="377.2" x2="406.56" y2="519.0" stroke="#cacaca" stroke-width="0.9" stroke-dasharray="1,1"/>
<line x1="437.40" y1="377.2" x2="437.40" y2="519.0" stroke="#cacaca" stroke-width="0.9" stroke-dasharray="1,1"/>
<line x1="267.8" y1="400.35" x2="452.7" y2="400.35" stroke="#cacaca" stroke-width="0.9" stroke-dasharray="1,1"/>
<line x1="267.8" y1="440.00" x2="452.7" y2="440.00" stroke="#cacaca" stroke-width="0.9" stroke-dasharray="1,1"/>
<line x1="267.8" y1="479.65" x2="452.7" y2="479.65" stroke="#cacaca" stroke-width="0.9" stroke-dasharray="1,1"/>
<path d="M283.20,386.08 L314.04,406.61 L360.30,489.90 L437.40,503.40" fill="none" stroke="#1AB2F0" stroke-width="1.4"/>
<path d="M283.20,510.58 L314.04,479.25 L360.30,412.25 L437.40,391.63" fill="none" stroke="#FA2424" stroke-width="1.4"/>
<rect x="279.80" y="382.68" width="6.8" height="6.8" fill="#fff" stroke="#1AB2F0" stroke-width="1.6"/>
<rect x="310.64" y="403.21" width="6.8" height="6.8" fill="#fff" stroke="#1AB2F0" stroke-width="1.6"/>
<rect x="356.90" y="486.50" width="6.8" height="6.8" fill="#fff" stroke="#1AB2F0" stroke-width="1.6"/>
<rect x="434.00" y="500.00" width="6.8" height="6.8" fill="#fff" stroke="#1AB2F0" stroke-width="1.6"/>
<rect x="279.80" y="507.18" width="6.8" height="6.8" fill="#fff" stroke="#FA2424" stroke-width="1.6"/>
<rect x="310.64" y="475.85" width="6.8" height="6.8" fill="#fff" stroke="#FA2424" stroke-width="1.6"/>
<rect x="356.90" y="408.85" width="6.8" height="6.8" fill="#fff" stroke="#FA2424" stroke-width="1.6"/>
<rect x="434.00" y="388.23" width="6.8" height="6.8" fill="#fff" stroke="#FA2424" stroke-width="1.6"/>
<line x1="328.2" y1="421.5" x2="366" y2="421.5" stroke="#FA2424" stroke-width="1.4"/>
<path d="M372.8,421.5 L364.6,418.9 L364.6,424.1 Z" fill="#FA2424"/>
<line x1="334" y1="475.3" x2="371.7" y2="475.3" stroke="#1AB2F0" stroke-width="1.4"/>
<path d="M326.2,475.3 L334.4,472.7 L334.4,477.9 Z" fill="#1AB2F0"/>
<rect x="267.8" y="377.2" width="184.89999999999998" height="141.8" fill="none" stroke="#262626" stroke-width="1.25"/>
<line x1="283.20" y1="519.00" x2="283.20" y2="516.00" stroke="#262626" stroke-width="1" />
<text x="0" y="0" font-size="9.7" text-anchor="middle" font-weight="normal" fill="#1a1a1a" transform="translate(283.20,529.50) scale(1,1.12)"  class="s">0.0</text>
<line x1="298.62" y1="519.00" x2="298.62" y2="517.00" stroke="#262626" stroke-width="1" />
<line x1="314.04" y1="519.00" x2="314.04" y2="516.00" stroke="#262626" stroke-width="1" />
<text x="0" y="0" font-size="9.7" text-anchor="middle" font-weight="normal" fill="#1a1a1a" transform="translate(314.04,529.50) scale(1,1.12)"  class="s">0.2</text>
<line x1="329.46" y1="519.00" x2="329.46" y2="517.00" stroke="#262626" stroke-width="1" />
<line x1="344.88" y1="519.00" x2="344.88" y2="516.00" stroke="#262626" stroke-width="1" />
<text x="0" y="0" font-size="9.7" text-anchor="middle" font-weight="normal" fill="#1a1a1a" transform="translate(344.88,529.50) scale(1,1.12)"  class="s">0.4</text>
<line x1="360.30" y1="519.00" x2="360.30" y2="517.00" stroke="#262626" stroke-width="1" />
<line x1="375.72" y1="519.00" x2="375.72" y2="516.00" stroke="#262626" stroke-width="1" />
<text x="0" y="0" font-size="9.7" text-anchor="middle" font-weight="normal" fill="#1a1a1a" transform="translate(375.72,529.50) scale(1,1.12)"  class="s">0.6</text>
<line x1="391.14" y1="519.00" x2="391.14" y2="517.00" stroke="#262626" stroke-width="1" />
<line x1="406.56" y1="519.00" x2="406.56" y2="516.00" stroke="#262626" stroke-width="1" />
<text x="0" y="0" font-size="9.7" text-anchor="middle" font-weight="normal" fill="#1a1a1a" transform="translate(406.56,529.50) scale(1,1.12)"  class="s">0.8</text>
<line x1="421.98" y1="519.00" x2="421.98" y2="517.00" stroke="#262626" stroke-width="1" />
<line x1="437.40" y1="519.00" x2="437.40" y2="516.00" stroke="#262626" stroke-width="1" />
<text x="0" y="0" font-size="9.7" text-anchor="middle" font-weight="normal" fill="#1a1a1a" transform="translate(437.40,529.50) scale(1,1.12)"  class="s">1.0</text>
<line x1="267.80" y1="393.50" x2="270.80" y2="393.50" stroke="#262626" stroke-width="1" />
<text x="0" y="0" font-size="9.7" text-anchor="end" font-weight="normal" fill="#1a1a1a" transform="translate(266.30,396.50) scale(1,1.12)"  class="s">10</text>
<line x1="267.80" y1="489.90" x2="270.80" y2="489.90" stroke="#262626" stroke-width="1" />
<text x="0" y="0" font-size="9.7" text-anchor="end" font-weight="normal" fill="#1a1a1a" transform="translate(266.30,492.90) scale(1,1.12)"  class="s">1</text>
<line x1="452.70" y1="400.35" x2="449.70" y2="400.35" stroke="#262626" stroke-width="1" />
<text x="0" y="0" font-size="9.7" text-anchor="start" font-weight="normal" fill="#1a1a1a" transform="translate(455.20,403.25) scale(1,1.12)"  class="s">5</text>
<line x1="452.70" y1="420.18" x2="450.70" y2="420.18" stroke="#262626" stroke-width="1" />
<line x1="452.70" y1="440.00" x2="449.70" y2="440.00" stroke="#262626" stroke-width="1" />
<text x="0" y="0" font-size="9.7" text-anchor="start" font-weight="normal" fill="#1a1a1a" transform="translate(455.20,442.90) scale(1,1.12)"  class="s">0</text>
<line x1="452.70" y1="459.82" x2="450.70" y2="459.82" stroke="#262626" stroke-width="1" />
<line x1="452.70" y1="479.65" x2="449.70" y2="479.65" stroke="#262626" stroke-width="1" />
<text x="0" y="0" font-size="9.7" text-anchor="start" font-weight="normal" fill="#1a1a1a" transform="translate(455.20,482.55) scale(1,1.12)"  class="s">-5</text>
<line x1="452.70" y1="499.48" x2="450.70" y2="499.48" stroke="#262626" stroke-width="1" />
<line x1="452.70" y1="519.30" x2="449.70" y2="519.30" stroke="#262626" stroke-width="1" />
<text x="0" y="0" font-size="9.7" text-anchor="start" font-weight="normal" fill="#1a1a1a" transform="translate(455.20,522.20) scale(1,1.12)"  class="s">-10</text>
<text x="360.50" y="544.00" font-size="12.6" text-anchor="middle" font-weight="normal" fill="#1a1a1a" >Doping concentration (wt%)</text>
<text x="0" y="0" font-size="12.5" text-anchor="middle" fill="#1a1a1a" transform="translate(256.8,450.5) rotate(-90)">Mobility (cm<tspan font-size="7.5" dy="-6.9">2</tspan><tspan dy="6.9">/Vs)</tspan></text>
<text x="0" y="0" font-size="12.5" text-anchor="start" fill="#1a1a1a" transform="translate(466,434) rotate(90)">V<tspan font-size="8" dy="3.8">th</tspan><tspan dy="-3.8"> (V)</tspan></text>
<text x="244.30" y="384.60" font-size="13.5" text-anchor="start" font-weight="bold" fill="#111" >(f)</text>
</svg></body></html>
